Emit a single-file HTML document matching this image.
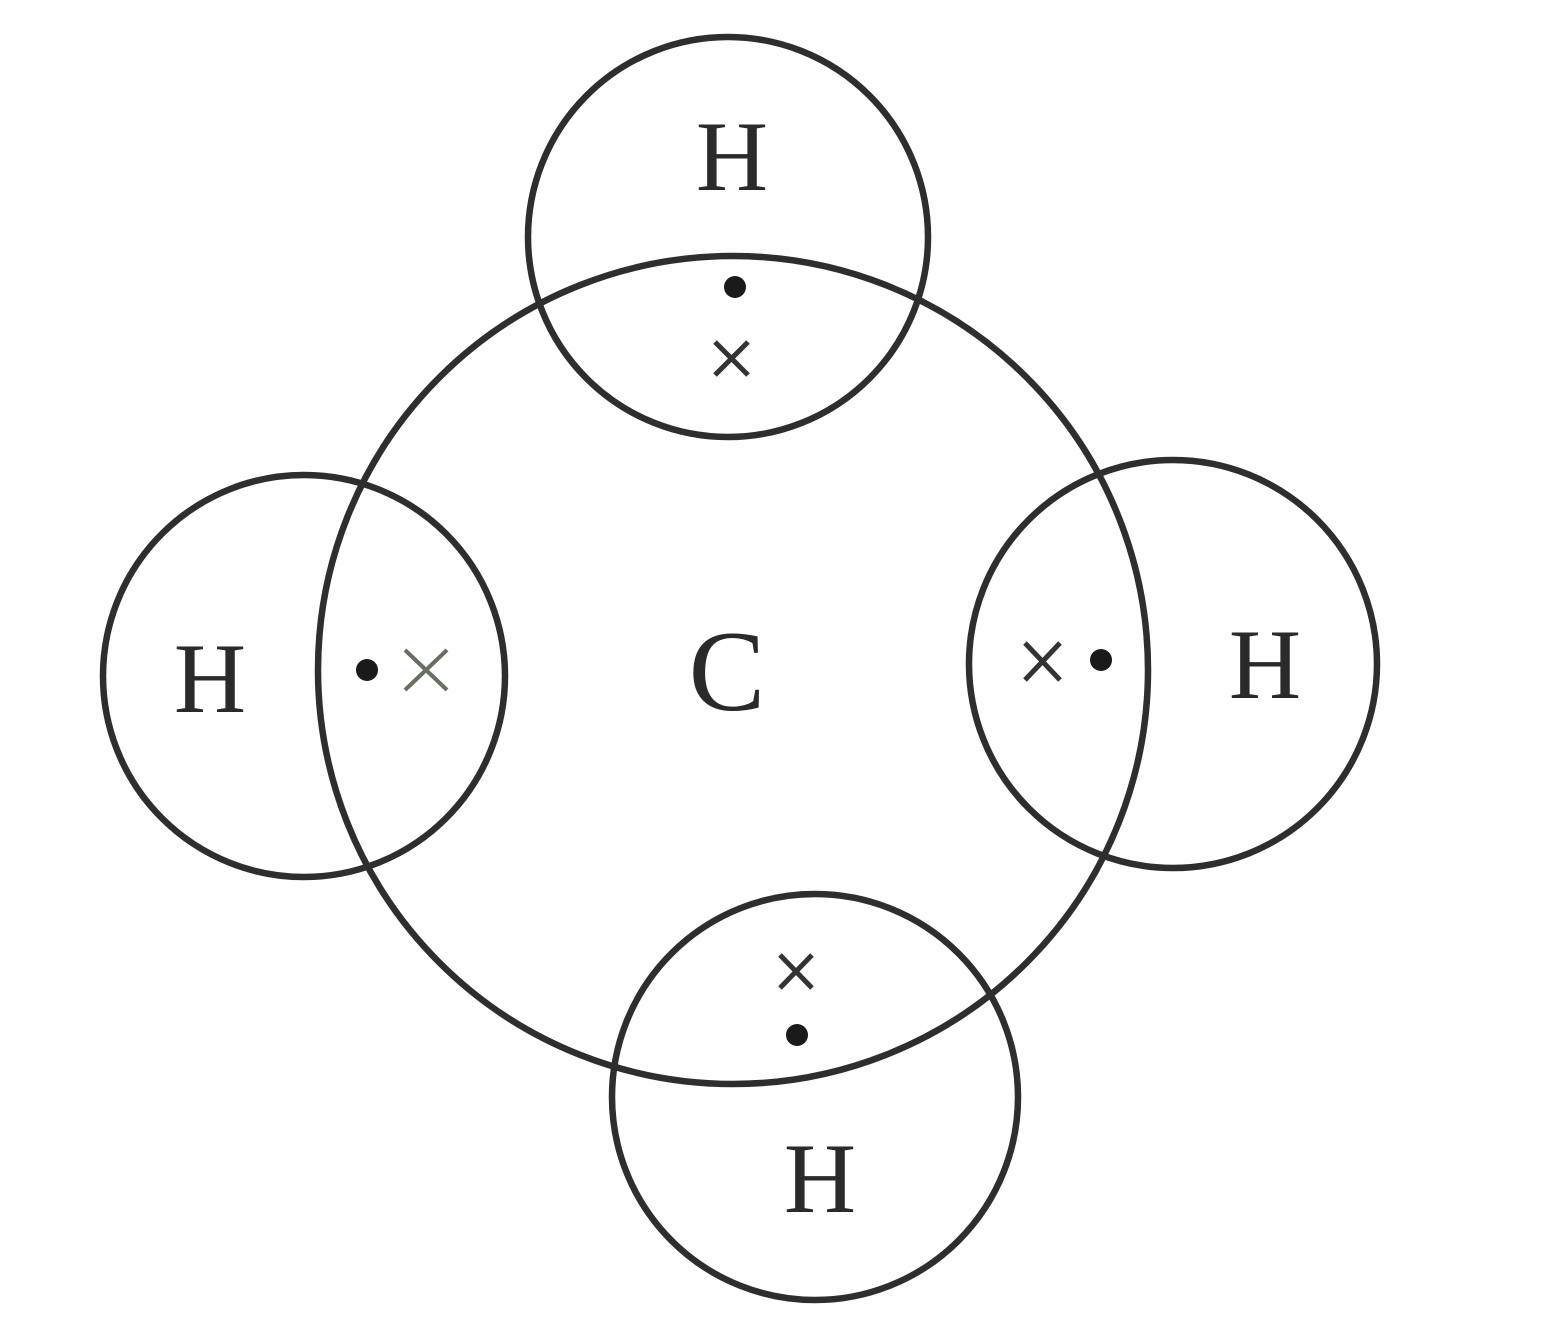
<!DOCTYPE html>
<html><head><style>
html,body{margin:0;padding:0;background:#fff;}
svg{display:block;}
text{font-family:"Liberation Serif",serif;fill:#2a2a2a;}
</style></head><body>
<svg width="1546" height="1330" viewBox="0 0 1546 1330">
<rect width="1546" height="1330" fill="#fefefe"/>
<g fill="none" stroke="#2e2e2e" stroke-width="6.5">
<ellipse cx="733" cy="670" rx="415" ry="414"/>
<circle cx="728" cy="237" r="200"/>
<circle cx="304" cy="676" r="201"/>
<circle cx="1173" cy="664" r="204"/>
<circle cx="815" cy="1097" r="203"/>
</g>
<g font-size="100" text-anchor="middle">
<text x="732" y="190">H</text>
<text x="210" y="712">H</text>
<text x="1265" y="698">H</text>
<text x="820" y="1212">H</text>
<text x="727" y="710" font-size="115">C</text>
</g>
<g fill="#1a1a1a">
<circle cx="735" cy="287" r="11"/>
<circle cx="367" cy="670" r="11"/>
<circle cx="1101" cy="660" r="11"/>
<circle cx="797" cy="1035" r="11"/>
</g>
<g stroke="#333" stroke-width="5">
<path d="M715 342L748 375M748 342L715 375"/>
<path d="M405 650L447 690M447 650L405 690" stroke="#667060" stroke-width="4"/>
<path d="M1025 643L1060 680M1060 643L1025 680"/>
<path d="M780 955L812 988M812 955L780 988"/>
</g>
</svg>
</body></html>
